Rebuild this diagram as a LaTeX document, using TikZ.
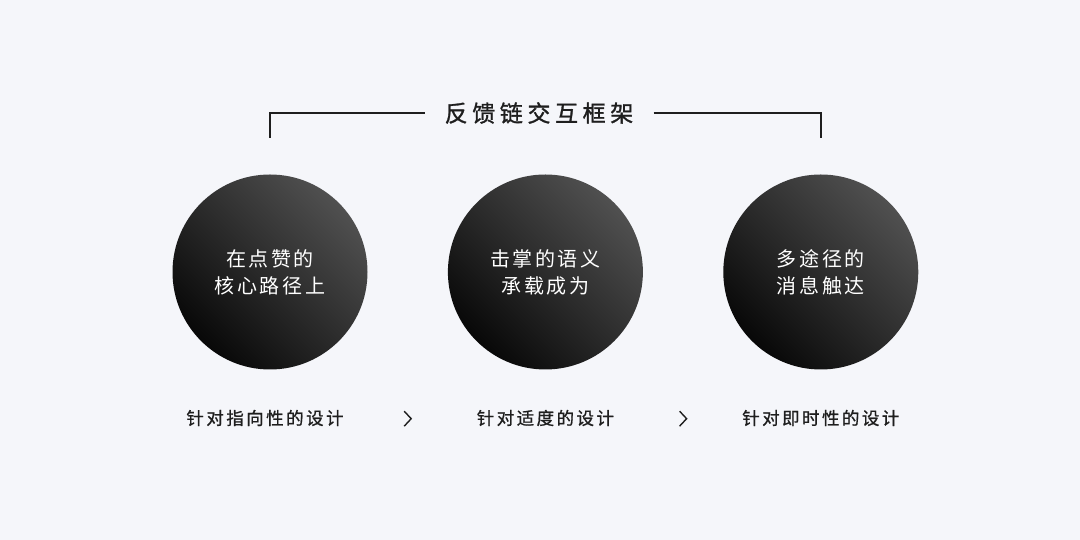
\documentclass[tikz,border=0pt]{standalone}
\usepackage{fontspec}
\usetikzlibrary{positioning, calc}
\newfontfamily\titlefont[LetterSpace=20, FakeBold=1.2]{Noto Sans CJK SC}
\newfontfamily\ballfont[LetterSpace=13]{Noto Sans CJK SC}
\newfontfamily\stepfont[LetterSpace=14, FakeBold=0.9]{Noto Sans CJK SC}
\definecolor{bgpaper}{HTML}{F5F6FA}
\definecolor{inkdark}{HTML}{1E1E1E}
\definecolor{balllight}{HTML}{505050}
\definecolor{balldark}{HTML}{080808}
\tikzset{
	x=1pt, y=1pt, % one unit is one pixel of the reference
	node distance=80pt, % gap between two bubbles
	bubble/.style={circle, minimum size=195pt, inner sep=0pt, align=center,
		top color=balllight, bottom color=balldark, shading angle=-45,
		text=white, font=\ballfont\fontsize{20}{27}\selectfont}, % the dark round nodes
	headline/.style={inner sep=0pt, text=inkdark, font=\titlefont\fontsize{23}{23}\selectfont}, % title on top
	steptext/.style={inner sep=0pt, text=inkdark, font=\stepfont\fontsize{17.5}{17.5}\selectfont}, % texts under the bubbles
	bracket/.style={draw=inkdark, line width=1.4pt}, % the frame round the title
	chevron/.style={draw=inkdark, line width=1.4pt, line join=miter}, % the small arrows
}
\begin{document}
\begin{tikzpicture}
		\fill[bgpaper] (0,0) rectangle (1080,540);

		\node[bubble] (b1) at (270,268) {在点赞的\\核心路径上};
		\node[bubble, right=of b1] (b2) {击掌的语义\\承载成为};
		\node[bubble, right=of b2] (b3) {多途径的\\消息触达};

		\node[headline] (head) at (539,427) {反馈链交互框架};

		\node[steptext, below=40pt of b1, xshift=-5pt] (s1) {针对指向性的设计};
		\node[steptext, below=40pt of b2] (s2) {针对适度的设计};
		\node[steptext, below=40pt of b3] (s3) {针对即时性的设计};

		\coordinate (g1) at ($(b1.south)!0.5!(b2.south) + (0,-49)$);
		\coordinate (g2) at ($(b2.south)!0.5!(b3.south) + (0,-49)$);

		\draw[bracket] ([xshift=-20pt]head.west) -- (head.west -| b1) -- ++(0,-25);
		\draw[bracket] ([xshift=20pt]head.east) -- (head.east -| b3) -- ++(0,-25);

		\draw[chevron] ([shift={(-3.5,7.5)}]g1) -- ([xshift=3.5pt]g1) -- ([shift={(-3.5,-7.5)}]g1);
		\draw[chevron] ([shift={(-3.5,7.5)}]g2) -- ([xshift=3.5pt]g2) -- ([shift={(-3.5,-7.5)}]g2);
	\end{tikzpicture}
\end{document}
